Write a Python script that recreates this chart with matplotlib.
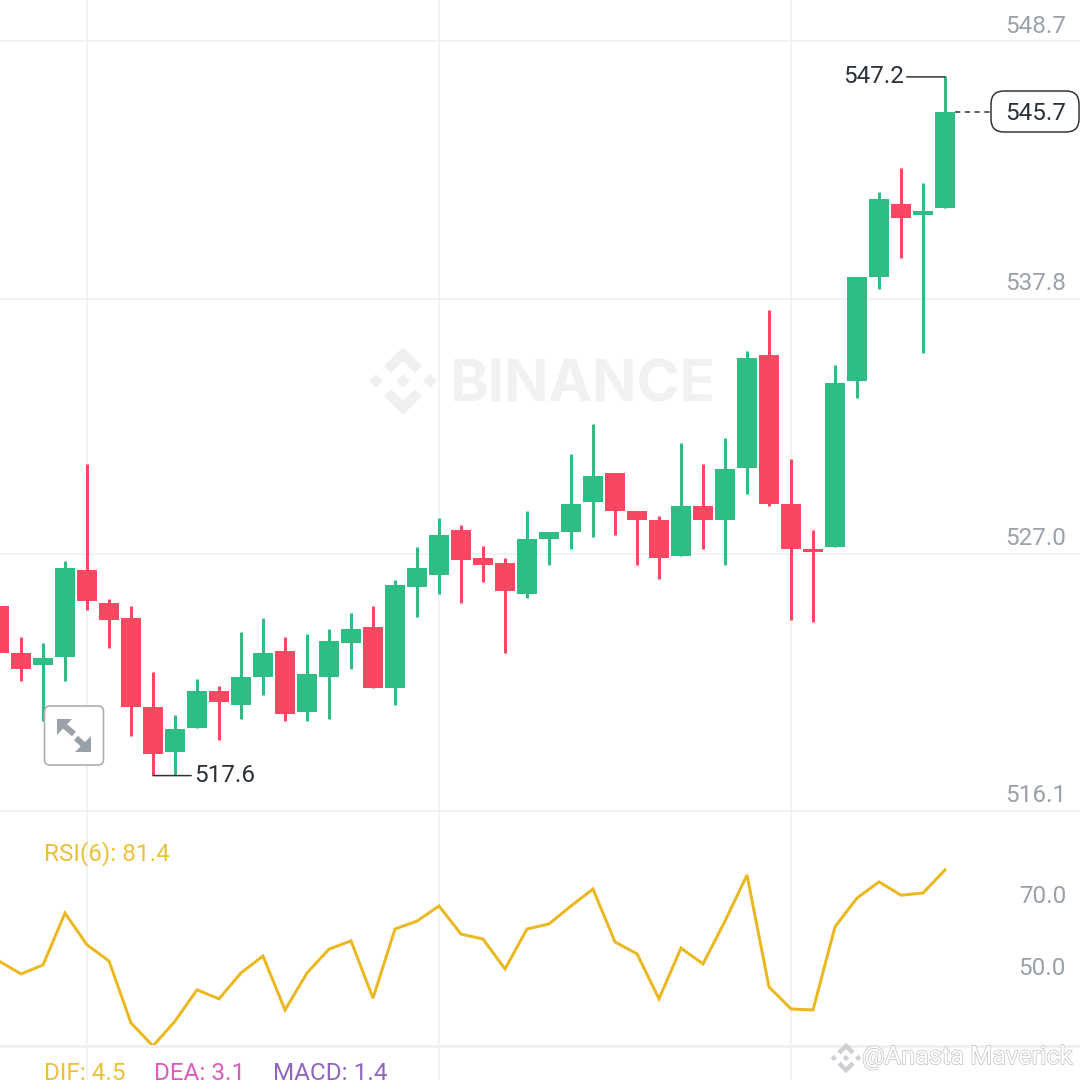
import numpy as np
import matplotlib
matplotlib.use("Agg")
import matplotlib.pyplot as plt
import matplotlib.patheffects as pe
from matplotlib.patches import FancyBboxPatch, Polygon

plt.rcParams['font.family'] = ['Roboto', 'DejaVu Sans']

# candles, oldest first
opens = [524.78, 522.79, 522.29, 522.62, 526.31, 524.91, 524.28, 520.51, 518.60, 519.62, 521.18,
         520.59, 521.78, 522.88, 520.29, 521.78, 523.22, 523.90, 521.31, 525.59, 526.10, 528.00,
         526.82, 526.61, 525.29, 527.62, 527.92, 529.19, 530.42, 528.81, 528.43, 526.90, 529.02,
         528.43, 530.63, 535.42, 529.11, 527.20, 527.28, 534.32, 538.72, 541.82, 541.35, 541.65]
highs = [525.08, 523.47, 523.22, 526.69, 530.80, 525.08, 524.78, 521.99, 520.17, 521.69, 521.40,
         523.68, 524.28, 523.47, 523.60, 523.81, 524.49, 524.78, 525.89, 527.28, 528.51, 528.22,
         527.33, 526.82, 528.81, 527.92, 531.22, 532.50, 530.42, 528.81, 528.60, 531.69, 530.80,
         531.90, 535.59, 537.32, 531.01, 528.00, 534.99, 538.72, 542.32, 543.34, 542.71, 547.24]
lows = [522.20, 521.61, 519.91, 521.61, 524.62, 523.01, 519.28, 517.63, 517.63, 519.62, 519.11,
        520.00, 521.01, 519.91, 519.91, 520.00, 522.12, 521.31, 520.59, 524.32, 525.29, 524.91,
        525.80, 522.79, 525.12, 526.52, 527.20, 527.71, 527.79, 526.52, 525.93, 526.90, 527.20,
        526.52, 529.53, 529.02, 524.19, 524.11, 527.28, 533.60, 538.21, 539.53, 535.50, 541.65]
closes = [522.79, 522.12, 522.58, 526.40, 525.00, 524.19, 520.51, 518.51, 519.57, 521.18, 520.72,
          521.78, 522.79, 520.21, 521.90, 523.30, 523.81, 521.31, 525.67, 526.40, 527.79, 526.73,
          526.52, 525.42, 527.62, 527.92, 529.11, 530.29, 528.81, 528.43, 526.82, 529.02, 528.43,
          530.59, 535.29, 529.11, 527.20, 527.07, 534.23, 538.72, 542.03, 541.22, 541.52, 545.71]
rsi = [56.1, 52.5, 55.0, 69.4, 60.6, 56.1, 38.9, 32.5, 39.4, 48.1, 45.6,
       52.8, 57.5, 42.5, 52.8, 59.4, 61.7, 45.8, 65.0, 67.2, 71.4, 63.6,
       62.2, 53.9, 65.0, 66.4, 71.4, 76.1, 61.4, 58.1, 45.6, 59.7, 55.3,
       67.2, 80.0, 48.9, 42.8, 42.5, 65.6, 73.6, 78.1, 74.4, 75.0, 81.4]

price_ticks = [548.7, 537.8, 527.0, 516.1]
rsi_ticks = [70.0, 50.0]
vgrid_idx = [4, 20, 36]
high_label = 547.2
low_label = 517.6
last_label = 545.7

GREEN = '#2EBD85'
RED = '#FA4660'
GRID = '#EEF0F3'
GREY = '#9BA1A9'
DARK = '#2B3139'
YELLOW = '#EBB821'
FS = 17.5

W = H = 1080
xs = np.arange(len(closes))
px = 0.72  # one image pixel in points at dpi 100


def fx(x):
    return x / W


def fy(y):
    return 1 - y / H


def make_ax(top, bottom):
    a = fig.add_axes([0, fy(bottom), 1, (bottom - top) / H])
    a.set_xlim(1 / 22, 1081 / 22)
    a.patch.set_alpha(0)
    a.set_xticks([])
    a.set_yticks([])
    for s in a.spines.values():
        s.set_visible(False)
    for v in vgrid_idx:
        a.axvline(v, color=GRID, lw=1.5 * px, zorder=0)
    return a


fig = plt.figure(figsize=(10.8, 10.8), dpi=100, facecolor='white')

# price pane
ax = make_ax(0, 811)
ax.set_ylim(516.1, 550.458)
for t in price_ticks:
    ax.axhline(t, color=GRID, lw=1.5 * px, zorder=0, clip_on=False)
    ax.annotate(f'{t:.1f}', (1, t), xycoords=('axes fraction', 'data'), xytext=(-14 * px, 15 * px),
                textcoords='offset points', ha='right', va='center', color=GREY, fontsize=FS)

# watermark
fig.text(fx(449), fy(386), 'BINANCE', color='#F0F1F1', fontsize=42, fontweight='bold', family='Inter',
         ha='left', va='center', zorder=0.5)


def diamond(cx, cy, r, color):
    fig.add_artist(Polygon([(fx(cx - r), fy(cy)), (fx(cx), fy(cy - r)), (fx(cx + r), fy(cy)), (fx(cx), fy(cy + r))],
                           closed=True, fc=color, ec='none', transform=fig.transFigure, zorder=0.5))


def chevron(cx, cy, r, t, up, color):
    s = -1 if up else 1
    pts = [(cx - r, cy), (cx, cy + s * r), (cx + r, cy), (cx + r - t, cy - s * t), (cx, cy + s * (r - 2 * t)), (cx - r + t, cy - s * t)]
    pts = [(fx(a), fy(b)) for a, b in pts]
    fig.add_artist(Polygon(pts, closed=True, fc=color, ec='none', transform=fig.transFigure, zorder=0.5))


def logo(cx, cy, k, color):
    diamond(cx, cy, 7 * k, color)
    diamond(cx - 27 * k, cy, 7 * k, color)
    diamond(cx + 27 * k, cy, 7 * k, color)
    chevron(cx, cy - 15 * k, 19 * k, 7 * k, True, color)
    chevron(cx, cy + 15 * k, 19 * k, 7 * k, False, color)


logo(403, 381, 1.0, '#EFF0F0')

# candles
up = np.array(closes) >= np.array(opens)
colors = [GREEN if u else RED for u in up]
ax.vlines(xs, lows, highs, colors=colors, lw=3 * px, zorder=2)
ax.bar(xs, np.abs(np.array(closes) - np.array(opens)), bottom=np.minimum(opens, closes), width=19.5 / 22,
       color=colors, zorder=3)

# high, low and last price labels
hi = int(np.argmax(highs))
lo = int(np.argmin(lows))
ax.annotate(f'{high_label:.1f}', (hi, high_label), xytext=(hi - 41 / 22, high_label), ha='right', va='center',
            color=DARK, fontsize=FS, arrowprops=dict(arrowstyle='-', color=DARK, lw=1.5 * px, shrinkA=0, shrinkB=0))
ax.annotate(f'{low_label:.1f}', (lo, low_label), xytext=(lo + 41 / 22, low_label), ha='left', va='center',
            color=DARK, fontsize=FS, arrowprops=dict(arrowstyle='-', color=DARK, lw=1.5 * px, shrinkA=0, shrinkB=0))
ax.plot([xs[-1] + 0.45, xs[-1] + 2.1], [closes[-1], closes[-1]], color=DARK, lw=1.5 * px, dashes=(3.5, 3), zorder=2)
fig.add_artist(FancyBboxPatch((fx(991), fy(132)), 88 / W, 41 / H, boxstyle='round,pad=0,rounding_size=0.012',
                              fc='white', ec=DARK, lw=1.5 * px, transform=fig.transFigure, zorder=4))
fig.text(fx(1036), fy(113), f'{last_label:.1f}', color=DARK, fontsize=FS, ha='center', va='center', zorder=5)

# expand button
fig.add_artist(FancyBboxPatch((fx(44.5), fy(765)), 59 / W, 59 / H, boxstyle='round,pad=0,rounding_size=0.005',
                              fc='white', ec='#A7ABB2', lw=1.6 * px, transform=fig.transFigure, zorder=4))
for tri, tail in [([(57, 719), (72, 719), (57, 735)], [(61, 723), (74, 734)]),
                  ([(91, 752), (75, 752), (91, 736)], [(87, 748), (76, 738)])]:
    fig.add_artist(Polygon([(fx(a), fy(b)) for a, b in tri], closed=True, fc='#9BA1A9', ec='none',
                           transform=fig.transFigure, zorder=5))
    fig.add_artist(plt.Line2D([fx(tail[0][0]), fx(tail[1][0])], [fy(tail[0][1]), fy(tail[1][1])], color='#9BA1A9',
                              lw=6 * px, transform=fig.transFigure, zorder=5, solid_capstyle='butt'))

# rsi pane
ax2 = make_ax(811, 1046)
ax2.set_ylim(32.5, 97.78)
ax2.plot(xs, rsi, color=YELLOW, lw=3 * px, zorder=3, clip_on=False, solid_joinstyle='miter')
for t in rsi_ticks:
    ax2.annotate(f'{t:.1f}', (1, t), xycoords=('axes fraction', 'data'), xytext=(-14 * px, 15 * px),
                 textcoords='offset points', ha='right', va='center', color=GREY, fontsize=FS)
ax2.text(44 / W, (1046 - 854) / 235, f'RSI(6): {rsi[-1]:.1f}', transform=ax2.transAxes, color='#EBC13C', fontsize=FS,
         ha='left', va='center')

# macd strip
ax3 = make_ax(1046, 1080)
ax3.set_ylim(0, 1)
ax3.axhline(1, color=GRID, lw=3 * px, zorder=1, clip_on=False)
for x, s, c in [(44, 'DIF: 4.5', '#EBC13C'), (154, 'DEA: 3.1', '#DB5CBC'), (273, 'MACD: 1.4', '#8F66BC')]:
    fig.text(fx(x), fy(1074), s, color=c, fontsize=FS, ha='left', va='center')

# author watermark
outline = [pe.withStroke(linewidth=1.1, foreground='#C4C6C9')]
fig.text(fx(862), fy(1057), '@Anasta Maverick', color='white', fontsize=18.2, ha='left', va='center',
         path_effects=outline, zorder=6)
logo(846, 1058, 0.45, '#CDCFD2')

fig.savefig('out.png', dpi=100)
